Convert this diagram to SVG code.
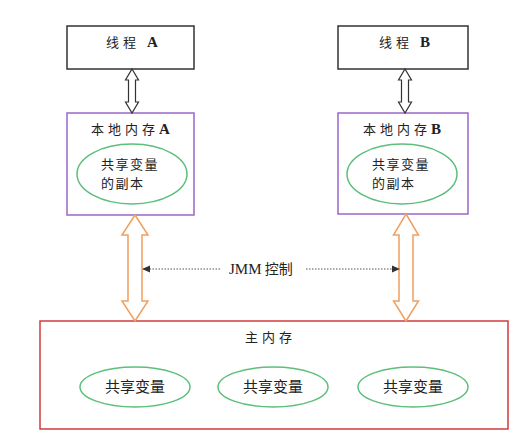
<svg xmlns="http://www.w3.org/2000/svg" width="524" height="440" viewBox="0 0 524 440">
<defs>
<style>
text{font-family:"Noto Sans CJK SC","Liberation Sans",sans-serif;fill:#222;}
.lat{font-family:"Liberation Serif",serif;font-weight:bold;}
.title{font-size:13px;letter-spacing:4px;}
.var{font-size:15px;}
.var2{font-size:13px;letter-spacing:1.5px;}
.thread{fill:#fff;stroke:#333;stroke-width:1.5;}
.local{fill:#fff;stroke:#9b66c9;stroke-width:1.5;}
.main{fill:#fff;stroke:#d23a3e;stroke-width:1.5;}
.ell{fill:#fff;stroke:#5cbf7a;stroke-width:1.5;}
.harrow{fill:#fff;stroke:#333;stroke-width:1.2;}
.oarrow{fill:#fff;stroke:#f0a060;stroke-width:1.5;}
.dot{stroke:#555;stroke-width:1.2;stroke-dasharray:1.5 1.5;fill:none;}
</style>
<marker id="ah" viewBox="0 0 8 8" refX="7" refY="4" markerWidth="8" markerHeight="8" markerUnits="userSpaceOnUse" orient="auto-start-reverse">
<path d="M0,0.5 L8,4 L0,7.5 Z" fill="#333"/>
</marker>
</defs>
<rect width="524" height="440" fill="#fff"/>

<g id="threadA">
<rect class="thread" x="67" y="26" width="127" height="43"/>
<text class="title" x="106" y="47">线程 <tspan class="lat" font-size="15">A</tspan></text>
</g>
<g id="threadB">
<rect class="thread" x="338" y="26" width="130" height="43"/>
<text class="title" x="379" y="47">线程 <tspan class="lat" font-size="15">B</tspan></text>
</g>

<g id="localA">
<rect class="local" x="67" y="113" width="127" height="102"/>
<text class="title" x="91" y="134">本地内存<tspan class="lat" font-size="15">A</tspan></text>
<ellipse class="ell" cx="132" cy="174" rx="55" ry="30"/>
<text class="var2" x="101" y="169">共享变量</text>
<text class="var2" x="101" y="188">的副本</text>
</g>
<g id="localB">
<rect class="local" x="338" y="113" width="130" height="101"/>
<text class="title" x="363" y="134">本地内存<tspan class="lat" font-size="15">B</tspan></text>
<ellipse class="ell" cx="402" cy="174" rx="55" ry="30"/>
<text class="var2" x="372" y="169">共享变量</text>
<text class="var2" x="372" y="188">的副本</text>
</g>

<g id="mainMemory">
<rect class="main" x="40" y="321" width="468" height="108"/>
<text class="title" x="245" y="342">主内存</text>
<ellipse class="ell" cx="135" cy="387" rx="55" ry="20"/>
<text class="var" x="135" y="392" text-anchor="middle">共享变量</text>
<ellipse class="ell" cx="273" cy="387" rx="55" ry="20"/>
<text class="var" x="273" y="392" text-anchor="middle">共享变量</text>
<ellipse class="ell" cx="413" cy="387" rx="55" ry="20"/>
<text class="var" x="413" y="392" text-anchor="middle">共享变量</text>
</g>

<g id="connectors">
<path class="harrow" d="M132,69 L138.5,80 L135.5,80 L135.5,102 L138.5,102 L132,113 L125.5,102 L128.5,102 L128.5,80 L125.5,80 Z"/>
<path class="harrow" d="M405,69 L411.5,80 L408.5,80 L408.5,102 L411.5,102 L405,113 L398.5,102 L401.5,102 L401.5,80 L398.5,80 Z"/>
<path class="oarrow" d="M135,215 L148,235 L142,235 L142,301 L148,301 L135,321 L122,301 L128,301 L128,235 L122,235 Z"/>
<path class="oarrow" d="M406,214 L418.5,235 L413,235 L413,301 L418.5,301 L406,321 L393.5,301 L399,301 L399,235 L393.5,235 Z"/>
<line class="dot" x1="220" y1="269" x2="143" y2="269" marker-end="url(#ah)"/>
<line class="dot" x1="306" y1="269" x2="399" y2="269" marker-end="url(#ah)"/>
<text x="229" y="274" style="font-size:14px;"><tspan style="font-family:'Liberation Serif',serif;font-size:15px;">JMM</tspan> 控制</text>
</g>
</svg>
